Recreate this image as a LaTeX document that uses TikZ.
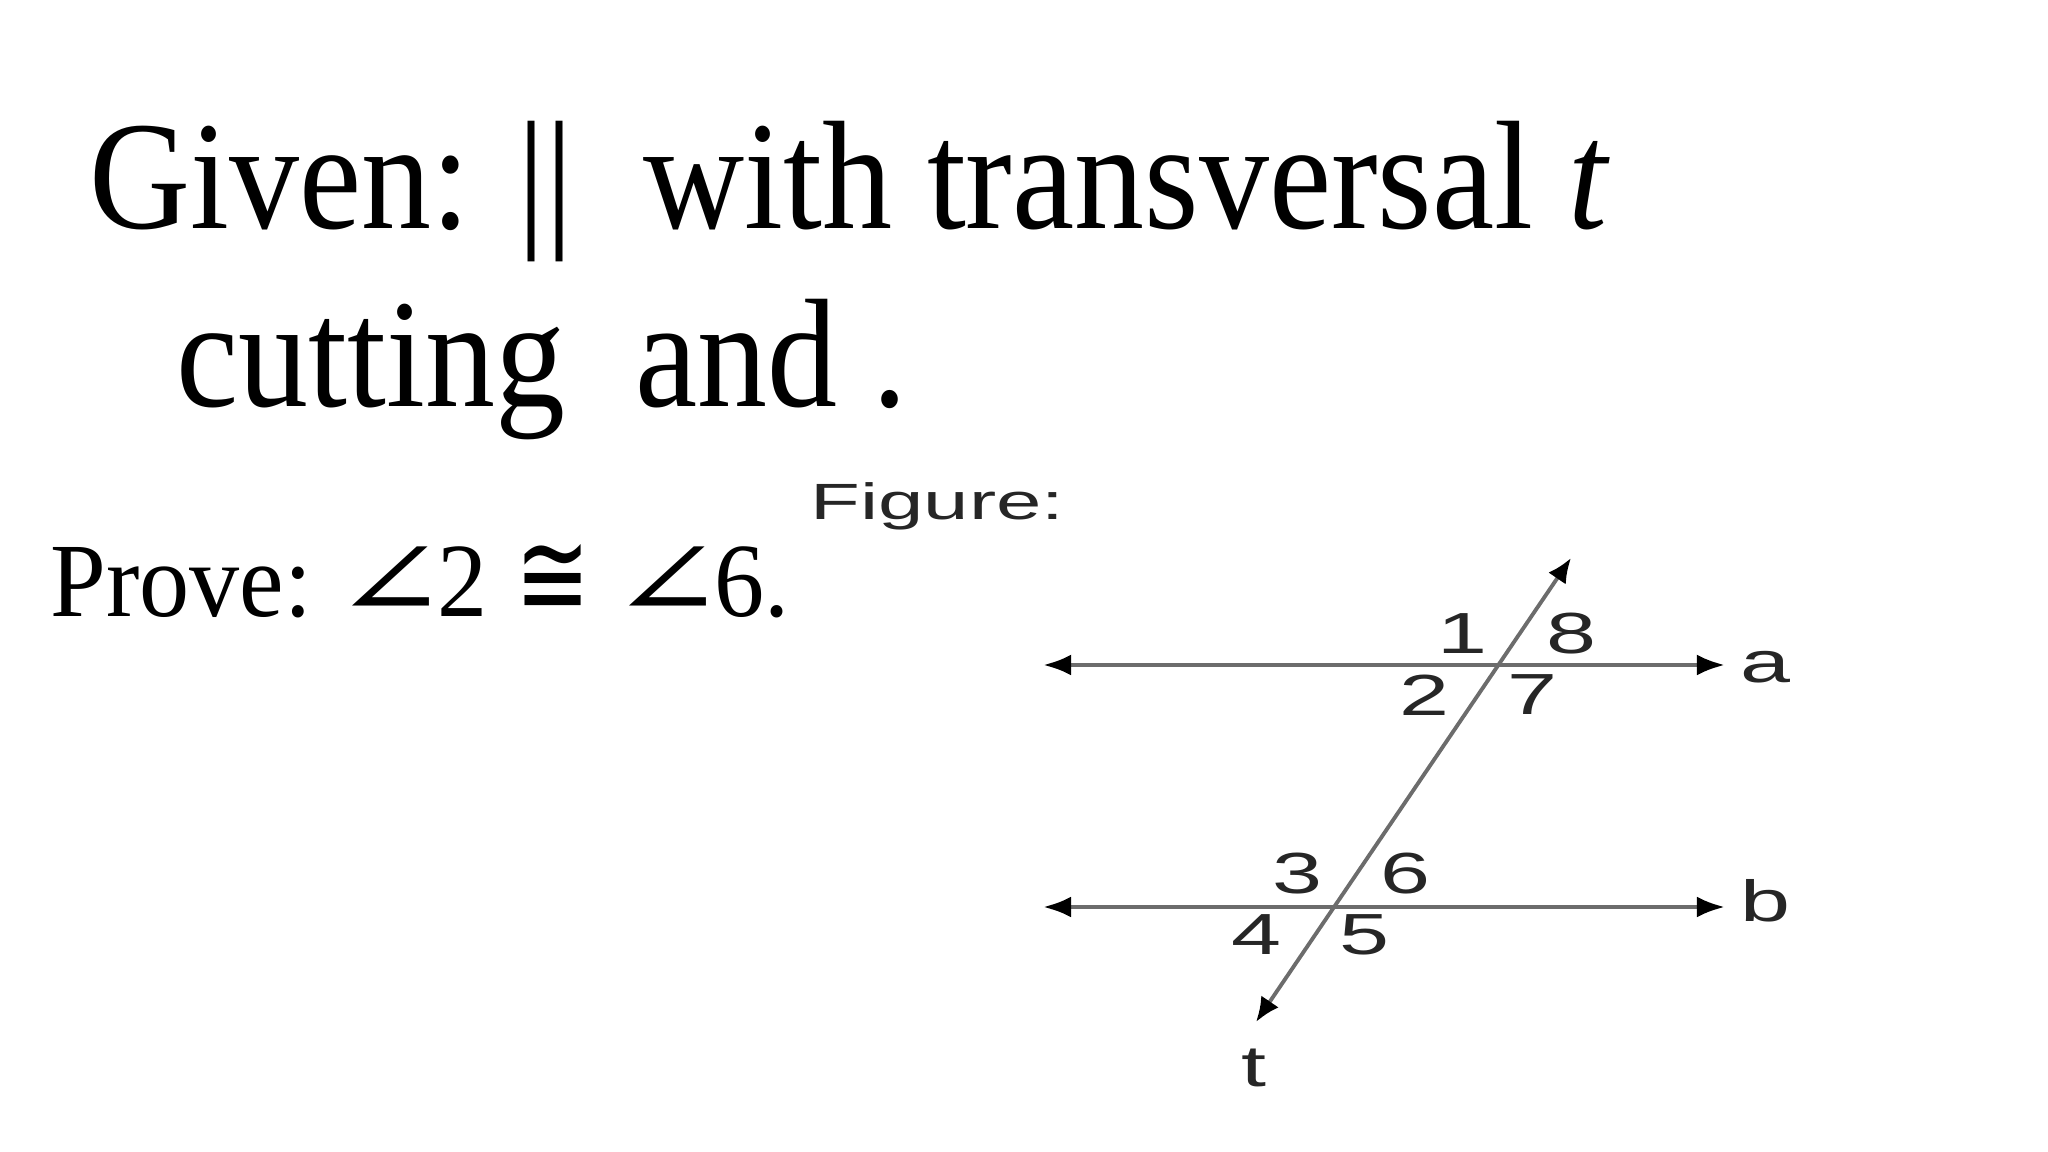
\documentclass[tikz,border=0pt]{standalone}
\usepackage{fontspec}
\usepackage{graphicx}
\setmainfont{Liberation Serif}
\newfontfamily\slidefont[FakeStretch=0.905]{Liberation Serif}
\newfontfamily\provefont[FakeStretch=0.95]{Liberation Serif}
\newfontfamily\anglefont[FakeStretch=1.3]{DejaVu Serif}
\newfontfamily\congfont{DejaVu Sans}
\newfontfamily\figfont[FakeStretch=1.55]{Liberation Sans}
\newfontfamily\figwide[FakeStretch=1.6]{Liberation Sans}
\newcommand{\angsym}{{\anglefont ∠}\kern-3pt}
\newcommand{\congsym}{\scalebox{0.85}[1.15]{\congfont ≅}}
\usetikzlibrary{arrows.meta}
\definecolor{linegray}{HTML}{6C6C6C}
\definecolor{labelgray}{HTML}{262626}
\tikzset{
	slide/.style={anchor=base west, inner sep=0pt},
	num/.style={inner sep=0pt, text=labelgray, font=\figfont\fontsize{16.5pt}{18pt}\selectfont},
	parline/.style={draw=linegray, line width=1.3pt, {Latex[length=8pt,width=6pt,color=black]}-{Latex[length=8pt,width=6pt,color=black]}},
	transline/.style={draw=linegray, line width=1.1pt, {Latex[length=7pt,width=6pt,color=black]}-{Latex[length=7pt,width=6pt,color=black]}},
}
\begin{document}
\begin{tikzpicture}[x=0.1mm, y=-0.1mm]
		\useasboundingbox (0, 0) rectangle (2048, 1152);
		\node[slide, font=\slidefont\fontsize{44pt}{50pt}\selectfont] (given) at (89, 229) {Given: ||\ \ with transversal \textit{t}};
		\node[slide, font=\slidefont\fontsize{44pt}{50pt}\selectfont] (cutting) at (176, 407) {cutting\ \ and .};
		\node[slide, font=\provefont\fontsize{30pt}{34pt}\selectfont] (prove) at (50, 617) {Prove:\hspace{6pt}\angsym 2\hspace{8pt}\congsym\hspace{5.5pt}\angsym 6.};
		\node[slide, text=labelgray, font=\figwide\fontsize{14.5pt}{16pt}\selectfont] (figlabel) at (810, 520) {Figure:};
		% parallel lines and transversal
		\coordinate (aL) at (1043, 665);
		\coordinate (aR) at (1725, 665);
		\coordinate (bL) at (1043, 907);
		\coordinate (bR) at (1725, 907);
		\coordinate (tB) at (1256, 1022);
		\coordinate (tT) at (1571, 558);
		\draw[parline] (aL) -- (aR);
		\draw[parline] (bL) -- (bR);
		\draw[transline] (tB) -- (tT);
		\node[num, anchor=base west] (la) at (1740, 683) {a};
		\node[num, anchor=base west] (lb) at (1740, 922) {b};
		\node[num, anchor=base] (lt) at (1254, 1086) {t};
		% angle numbers
		\node[num] (n1) at (1462, 634) {1};
		\node[num] (n8) at (1571, 634) {8};
		\node[num] (n2) at (1424, 695) {2};
		\node[num] (n7) at (1532, 695) {7};
		\node[num] (n3) at (1297, 874) {3};
		\node[num] (n6) at (1405, 874) {6};
		\node[num] (n4) at (1256, 935) {4};
		\node[num] (n5) at (1364, 935) {5};
	\end{tikzpicture}
\end{document}
